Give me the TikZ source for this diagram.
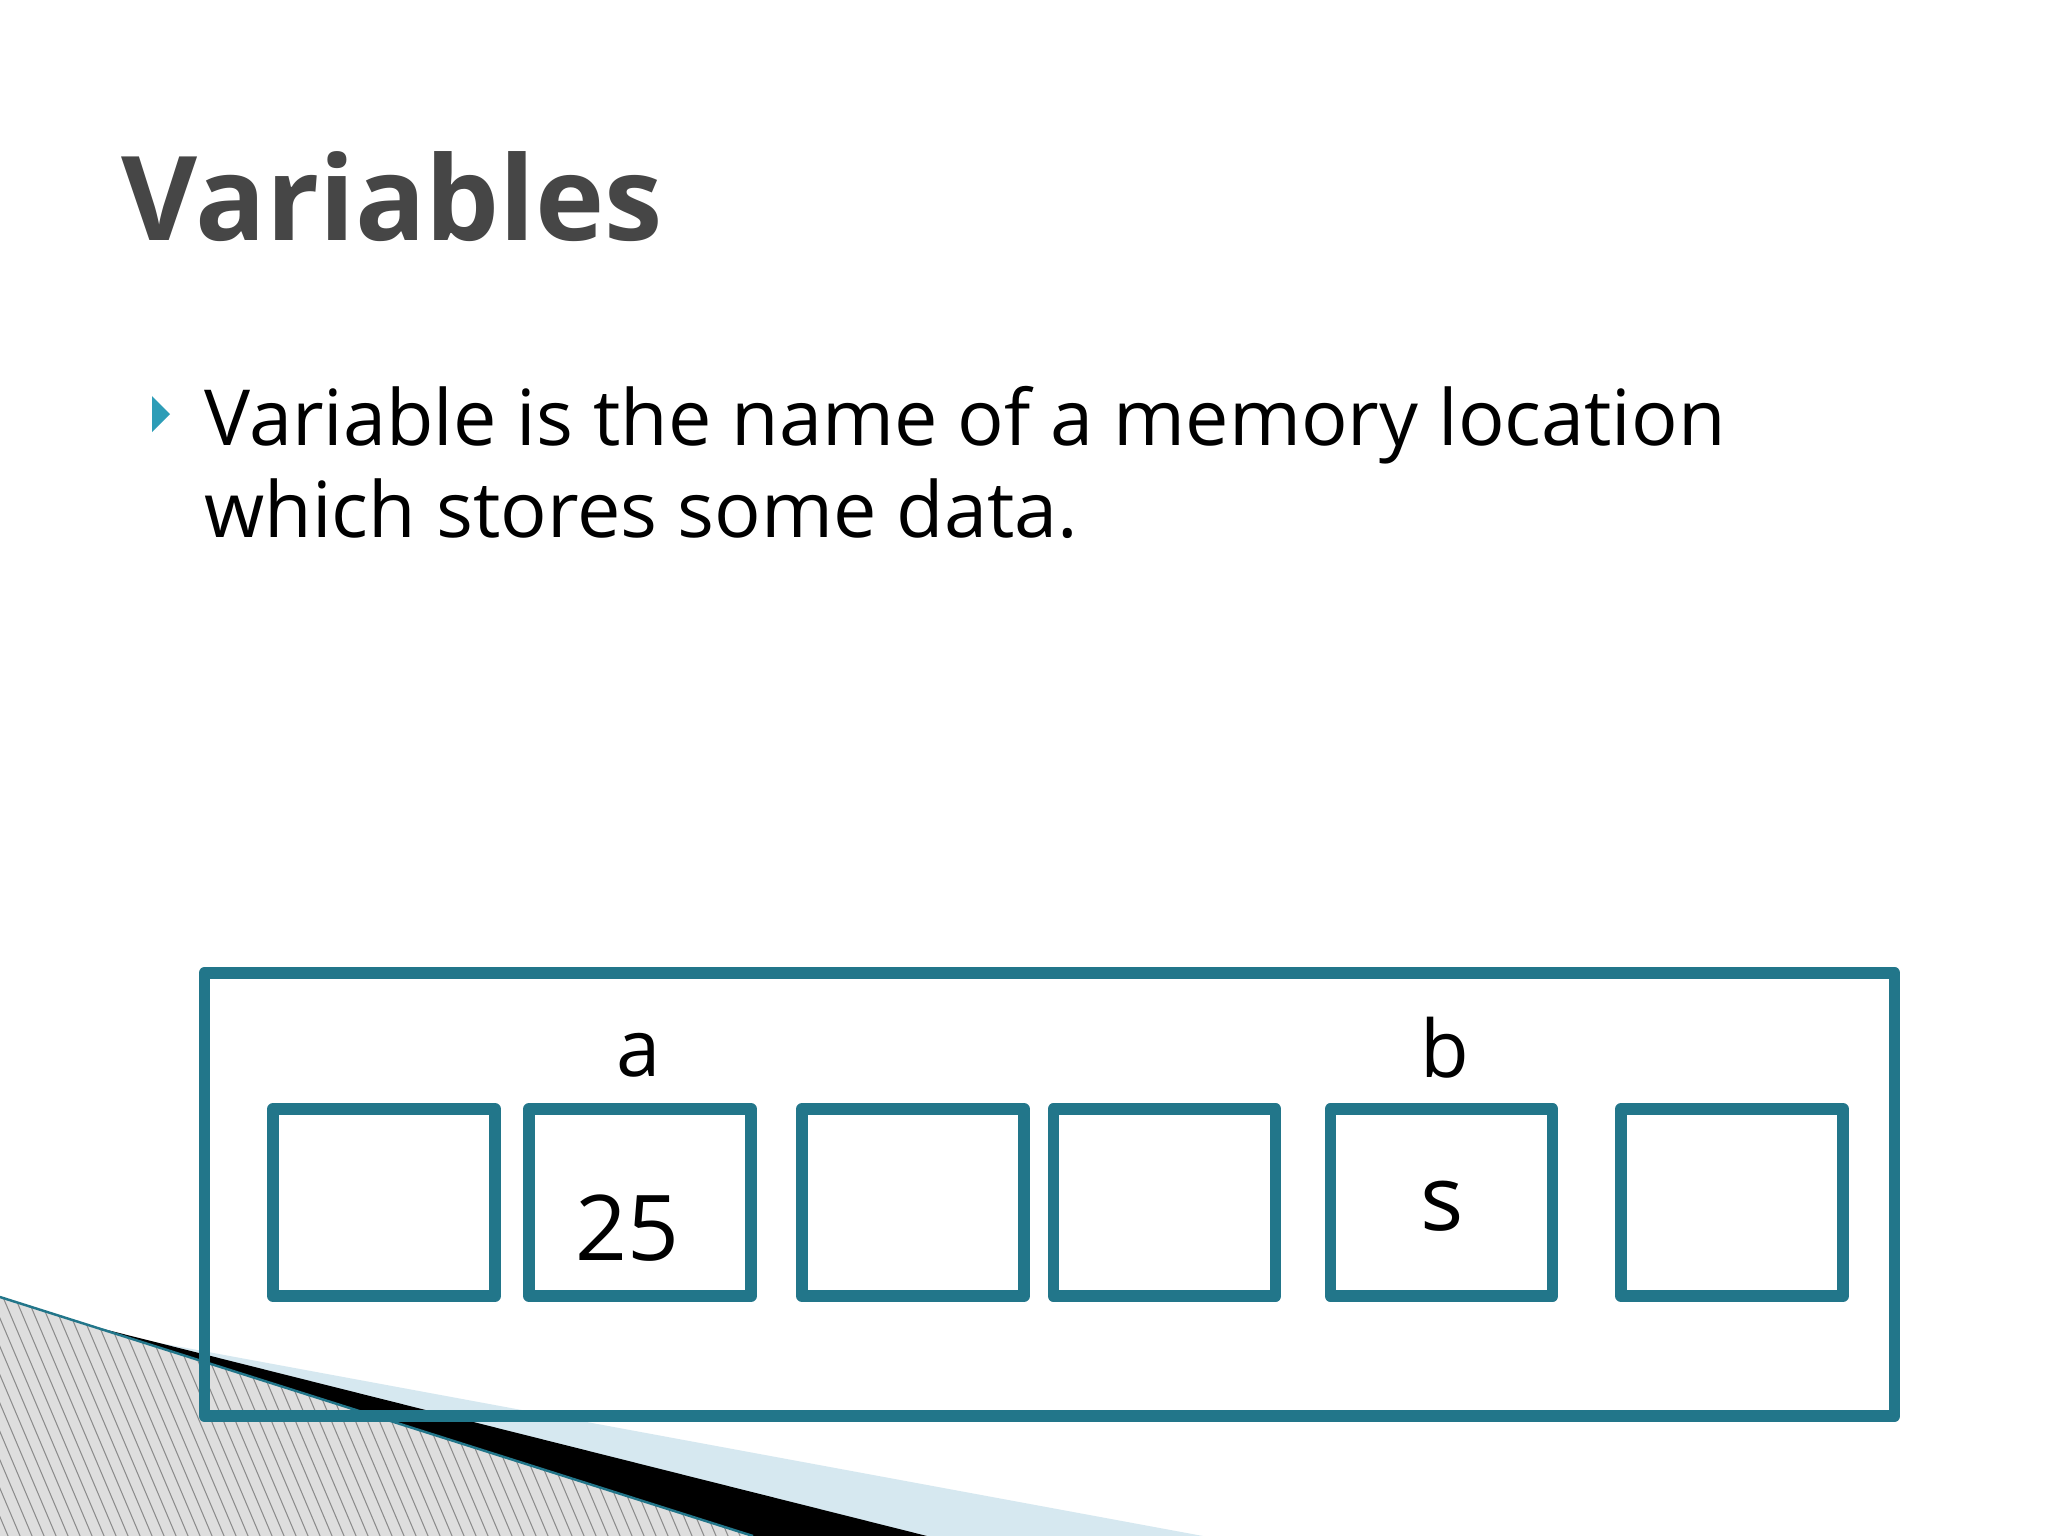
\documentclass[tikz,border=0pt]{standalone}
\usepackage{fontspec}
\setmainfont{Open Sans}
\definecolor{teal}{RGB}{34,118,138}
\definecolor{bullet}{RGB}{45,157,183}
\definecolor{titlegrey}{RGB}{70,70,70}
\definecolor{lightblue}{RGB}{214,232,240}
\definecolor{hatchgrey}{RGB}{222,222,222}
\definecolor{hatchline}{RGB}{140,140,140}
\begin{document}
\begin{tikzpicture}[x=0.01cm,y=-0.01cm,
  cellbox/.style={draw=teal,line width=3.3pt,line join=round,fill=white,minimum width=2.22cm,minimum height=1.87cm,inner sep=0pt,outer sep=0pt},
  membox/.style={draw=teal,line width=3.3pt,line join=round,minimum width=16.89cm,minimum height=4.43cm,inner sep=0pt,outer sep=0pt},
  lbl/.style={anchor=base,inner sep=0pt,font=\fontsize{22.6}{27}\selectfont},
  val/.style={anchor=base,inner sep=0pt,font=\fontsize{25.8}{30}\selectfont},
  bodytext/.style={anchor=base west,inner sep=0pt,font=\fontsize{22.0}{26}\selectfont}]
\useasboundingbox (0,0) rectangle (2048,1536);
\fill[white] (0,0) rectangle (2048,1536);
% bottom-left decoration
\fill[lightblue] (0,1313.5) -- (1203,1536) -- (0,1536) -- cycle;
\fill[black] (0,1303) -- (927,1536) -- (0,1536) -- cycle;
\fill[hatchgrey] (0,1297) -- (753,1536) -- (0,1536) -- cycle;
\begin{scope}
  \clip (0,1297) -- (753,1536) -- (0,1536) -- cycle;
  \foreach \i in {-60,...,75} {
    \draw[hatchline,line width=0.3pt] (\i*12,1290) -- ++(110,260);
  }
\end{scope}
\draw[teal,line width=0.7pt] (0,1297) -- (753,1536);
% title
\node[anchor=base west,inner sep=0pt,text=titlegrey,font=\fontsize{33.3}{38}\selectfont\bfseries] (title) at (121,240) {Variables};
% bullet
\fill[bullet] (152,396) -- (170,414) -- (152,432) -- cycle;
\node[bodytext] (line1) at (204,445) {Variable is the name of a memory location};
\node[bodytext] (line2) at (204,537) {which stores some data.};
% memory
\node[membox] (mem) at (1049.5,1194.5) {};
\node[cellbox] (c1) at (384,1202.5) {};
\node[cellbox] (c2) at (640,1202.5) {};
\node[cellbox] (c3) at (913,1202.5) {};
\node[cellbox] (c4) at (1164.5,1202.5) {};
\node[cellbox] (c5) at (1441.5,1202.5) {};
\node[cellbox] (c6) at (1732,1202.5) {};
\node[lbl] (la) at (639,1076) {a};
\node[lbl] (lb) at (1445,1077) {b};
\node[val] (v25) at (627,1260) {25};
\node[val] (vs) at (1442,1230) {s};
\end{tikzpicture}
\end{document}
